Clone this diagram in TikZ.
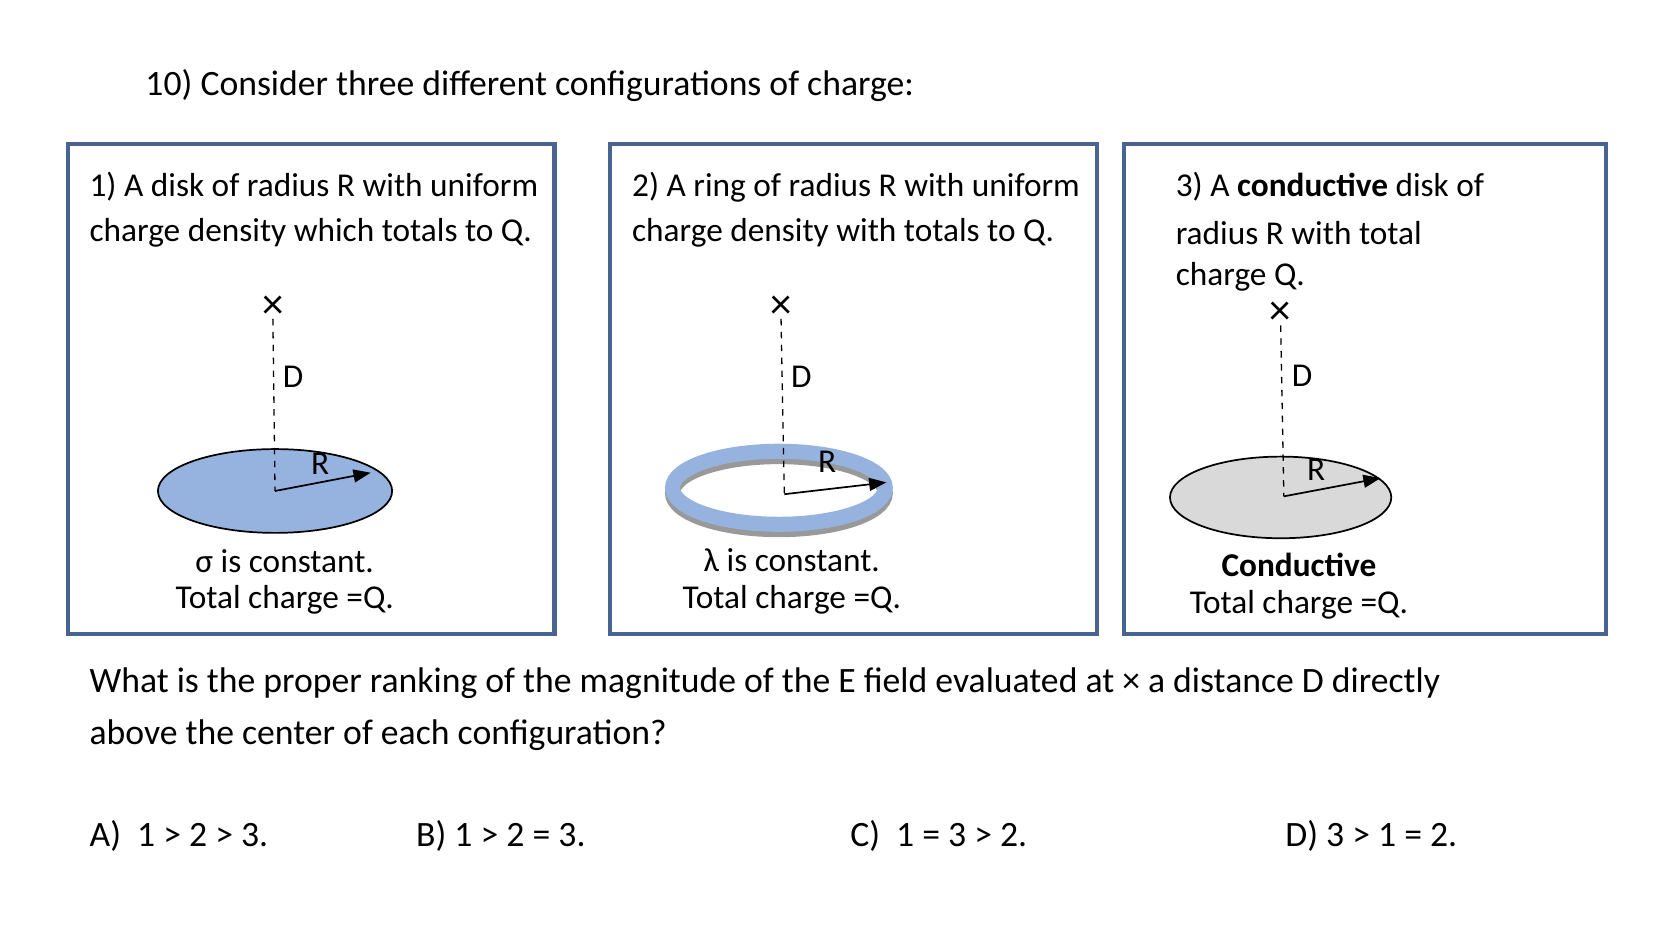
\documentclass[tikz,border=0pt]{standalone}
\usepackage{fontspec}
\setmainfont{Carlito}
\usetikzlibrary{arrows.meta}
\begin{document}
\begin{tikzpicture}[x=0.5pt,y=-0.5pt,
  frame/.style={draw={rgb,255:red,74;green,100;blue,145}, line width=2pt},
  txt/.style={anchor=west, inner sep=0pt, font=\fontsize{15.5}{18}\selectfont},
  big/.style={anchor=west, inner sep=0pt, font=\fontsize{16.6}{19}\selectfont},
  ctxt/.style={anchor=center, inner sep=0pt, font=\fontsize{15.5}{18}\selectfont},
  lbl/.style={inner sep=0pt, font=\fontsize{15.5}{18}\selectfont},
  cross/.style={inner sep=0pt, font=\fontsize{20}{22}\selectfont},
  axis/.style={dashed, line width=0.6pt},
  rad/.style={-{Triangle[length=8pt,width=6pt]}, line width=0.8pt}]
\useasboundingbox (0,0) rectangle (1560,862);
\definecolor{diskblue}{RGB}{149,179,222}
\definecolor{diskgray}{RGB}{217,217,217}
\node[big] (title) at (135,80) {10) Consider three different configurations of charge:};
% boxes
\draw[frame] (63,134) rectangle (516,590);
\draw[frame] (568,134) rectangle (1021,590);
\draw[frame] (1046,134) rectangle (1495,590);
% box 1
\node[txt] (t1a) at (83,174) {1) A disk of radius R with uniform};
\node[txt] (t1b) at (83,217) {charge density which totals to Q.};
\draw[fill=diskblue, line width=0.8pt] (256,457) ellipse [x radius=109, y radius=39];
\node[cross] (x1) at (254,286) {×};
\coordinate (c1) at (256,457);
\coordinate (e1) at (345,440);
\draw[axis] (x1.south) -- (c1);
\draw[rad] (c1) -- (e1);
\node[txt] (d1) at (263,351) {D};
\node[lbl] (r1) at (298,432) {R};
\node[ctxt] (s1) at (265,522) {σ is constant.};
\node[ctxt] (q1) at (265,558) {Total charge =Q.};
% box 2
\node[txt] (t2a) at (588,174) {2) A ring of radius R with uniform};
\node[txt] (t2b) at (588,217) {charge density with totals to Q.};
\draw[gray!80, line width=7pt] (725,459) ellipse [x radius=99, y radius=34];
\draw[diskblue, line width=7pt] (725,454) ellipse [x radius=99, y radius=34];
\node[cross] (x2) at (727,286) {×};
\coordinate (c2) at (730,460);
\coordinate (e2) at (825,449);
\draw[axis] (x2.south) -- (c2);
\draw[rad] (c2) -- (e2);
\node[txt] (d2) at (736,351) {D};
\node[lbl] (r2) at (770,430) {R};
\node[ctxt] (s2) at (737,521) {λ is constant.};
\node[ctxt] (q2) at (737,558) {Total charge =Q.};
% box 3
\node[txt] (t3a) at (1094,174) {3) A \textbf{conductive} disk of};
\node[txt] (t3b) at (1094,217) {radius R with total};
\node[txt] (t3c) at (1094,258) {charge Q.};
\draw[fill=diskgray, line width=0.8pt] (1192,463) ellipse [x radius=103, y radius=38];
\node[cross] (x3) at (1192,292) {×};
\coordinate (c3) at (1195,462);
\coordinate (e3) at (1285,445);
\draw[axis] (x3.south) -- (c3);
\draw[rad] (c3) -- (e3);
\node[txt] (d3) at (1202,350) {D};
\node[lbl] (r3) at (1225,437) {R};
\node[ctxt] (s3) at (1209,526) {\textbf{Conductive}};
\node[ctxt] (q3) at (1209,563) {Total charge =Q.};
% question
\node[big] (qa) at (83,636) {What is the proper ranking of the magnitude of the E field evaluated at × a distance D directly};
\node[big] (qb) at (83,684) {above the center of each configuration?};
\node[big] (ansA) at (83,778) {A)\ \ 1 > 2 > 3.};
\node[big] (ansB) at (387,778) {B) 1 > 2 = 3.};
\node[big] (ansC) at (791,778) {C)\ \ 1 = 3 > 2.};
\node[big] (ansD) at (1196,778) {D) 3 > 1 = 2.};
\end{tikzpicture}
\end{document}
